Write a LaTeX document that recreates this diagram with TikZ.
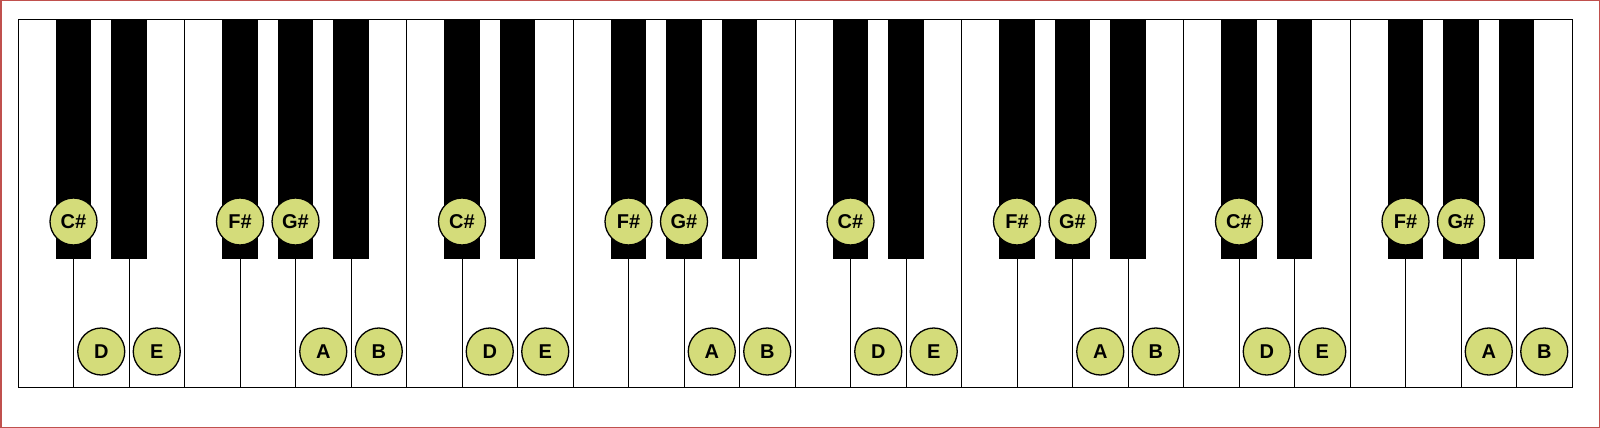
\documentclass[tikz,border=0pt]{standalone}
\usepackage{fontspec}
\setmainfont{Liberation Sans}
\usepackage{tkz-graph}
\usetikzlibrary{arrows}
\usetikzlibrary{shapes}
\definecolor{NoteFill}{HTML}{D4DC7A}
\definecolor{FrameRed}{HTML}{C0504D}

\begin{document}
\begin{tikzpicture}[x = 1pt, y = -1pt]
\tikzstyle{VertexStyle}=[shape = circle,
                         fill = NoteFill,
                         minimum size = 47pt,
                         inner sep = 0pt,
                         line width = 1.3pt,
                         font = \bfseries\fontsize{20}{20}\selectfont,
                         draw]
\tikzstyle{WhiteKey}=[draw, fill = white, line width = 1pt]
\tikzstyle{BlackKey}=[fill = black]
\useasboundingbox (0,0) rectangle (1600,428);
\draw[FrameRed, line width = 1.5pt] (0.75,0.75) rectangle (1599.25,427.25);
% white keys
\draw[WhiteKey] (18,20) rectangle (73.5,387);
\draw[WhiteKey] (73.5,20) rectangle (129,387);
\draw[WhiteKey] (129,20) rectangle (184.5,387);
\draw[WhiteKey] (184.5,20) rectangle (240,387);
\draw[WhiteKey] (240,20) rectangle (295.5,387);
\draw[WhiteKey] (295.5,20) rectangle (351,387);
\draw[WhiteKey] (351,20) rectangle (406.5,387);
\draw[WhiteKey] (406.5,20) rectangle (462,387);
\draw[WhiteKey] (462,20) rectangle (517.5,387);
\draw[WhiteKey] (517.5,20) rectangle (573,387);
\draw[WhiteKey] (573,20) rectangle (628.5,387);
\draw[WhiteKey] (628.5,20) rectangle (684,387);
\draw[WhiteKey] (684,20) rectangle (739.5,387);
\draw[WhiteKey] (739.5,20) rectangle (795,387);
\draw[WhiteKey] (795,20) rectangle (850.5,387);
\draw[WhiteKey] (850.5,20) rectangle (906,387);
\draw[WhiteKey] (906,20) rectangle (961.5,387);
\draw[WhiteKey] (961.5,20) rectangle (1017,387);
\draw[WhiteKey] (1017,20) rectangle (1072.5,387);
\draw[WhiteKey] (1072.5,20) rectangle (1128,387);
\draw[WhiteKey] (1128,20) rectangle (1183.5,387);
\draw[WhiteKey] (1183.5,20) rectangle (1239,387);
\draw[WhiteKey] (1239,20) rectangle (1294.5,387);
\draw[WhiteKey] (1294.5,20) rectangle (1350,387);
\draw[WhiteKey] (1350,20) rectangle (1405.5,387);
\draw[WhiteKey] (1405.5,20) rectangle (1461,387);
\draw[WhiteKey] (1461,20) rectangle (1516.5,387);
\draw[WhiteKey] (1516.5,20) rectangle (1572,387);
% black keys
\fill[BlackKey] (55.75,20) rectangle (91.25,259);
\fill[BlackKey] (111.25,20) rectangle (146.75,259);
\fill[BlackKey] (222.25,20) rectangle (257.75,259);
\fill[BlackKey] (277.75,20) rectangle (313.25,259);
\fill[BlackKey] (333.25,20) rectangle (368.75,259);
\fill[BlackKey] (444.25,20) rectangle (479.75,259);
\fill[BlackKey] (499.75,20) rectangle (535.25,259);
\fill[BlackKey] (610.75,20) rectangle (646.25,259);
\fill[BlackKey] (666.25,20) rectangle (701.75,259);
\fill[BlackKey] (721.75,20) rectangle (757.25,259);
\fill[BlackKey] (832.75,20) rectangle (868.25,259);
\fill[BlackKey] (888.25,20) rectangle (923.75,259);
\fill[BlackKey] (999.25,20) rectangle (1034.75,259);
\fill[BlackKey] (1054.75,20) rectangle (1090.25,259);
\fill[BlackKey] (1110.25,20) rectangle (1145.75,259);
\fill[BlackKey] (1221.25,20) rectangle (1256.75,259);
\fill[BlackKey] (1276.75,20) rectangle (1312.25,259);
\fill[BlackKey] (1387.75,20) rectangle (1423.25,259);
\fill[BlackKey] (1443.25,20) rectangle (1478.75,259);
\fill[BlackKey] (1498.75,20) rectangle (1534.25,259);
% note labels
\Vertex[x = 73.5, y = 221.5, L = {C\#}]{cs0}
\Vertex[x = 240, y = 221.5, L = {F\#}]{fs0}
\Vertex[x = 295.5, y = 221.5, L = {G\#}]{gs0}
\Vertex[x = 462, y = 221.5, L = {C\#}]{cs1}
\Vertex[x = 628.5, y = 221.5, L = {F\#}]{fs1}
\Vertex[x = 684, y = 221.5, L = {G\#}]{gs1}
\Vertex[x = 850.5, y = 221.5, L = {C\#}]{cs2}
\Vertex[x = 1017, y = 221.5, L = {F\#}]{fs2}
\Vertex[x = 1072.5, y = 221.5, L = {G\#}]{gs2}
\Vertex[x = 1239, y = 221.5, L = {C\#}]{cs3}
\Vertex[x = 1405.5, y = 221.5, L = {F\#}]{fs3}
\Vertex[x = 1461, y = 221.5, L = {G\#}]{gs3}
\Vertex[x = 101.25, y = 351.5, L = {D}]{d0}
\Vertex[x = 156.75, y = 351.5, L = {E}]{e0}
\Vertex[x = 323.25, y = 351.5, L = {A}]{a0}
\Vertex[x = 378.75, y = 351.5, L = {B}]{b0}
\Vertex[x = 489.75, y = 351.5, L = {D}]{d1}
\Vertex[x = 545.25, y = 351.5, L = {E}]{e1}
\Vertex[x = 711.75, y = 351.5, L = {A}]{a1}
\Vertex[x = 767.25, y = 351.5, L = {B}]{b1}
\Vertex[x = 878.25, y = 351.5, L = {D}]{d2}
\Vertex[x = 933.75, y = 351.5, L = {E}]{e2}
\Vertex[x = 1100.25, y = 351.5, L = {A}]{a2}
\Vertex[x = 1155.75, y = 351.5, L = {B}]{b2}
\Vertex[x = 1266.75, y = 351.5, L = {D}]{d3}
\Vertex[x = 1322.25, y = 351.5, L = {E}]{e3}
\Vertex[x = 1488.75, y = 351.5, L = {A}]{a3}
\Vertex[x = 1544.25, y = 351.5, L = {B}]{b3}
\end{tikzpicture}
\end{document}
